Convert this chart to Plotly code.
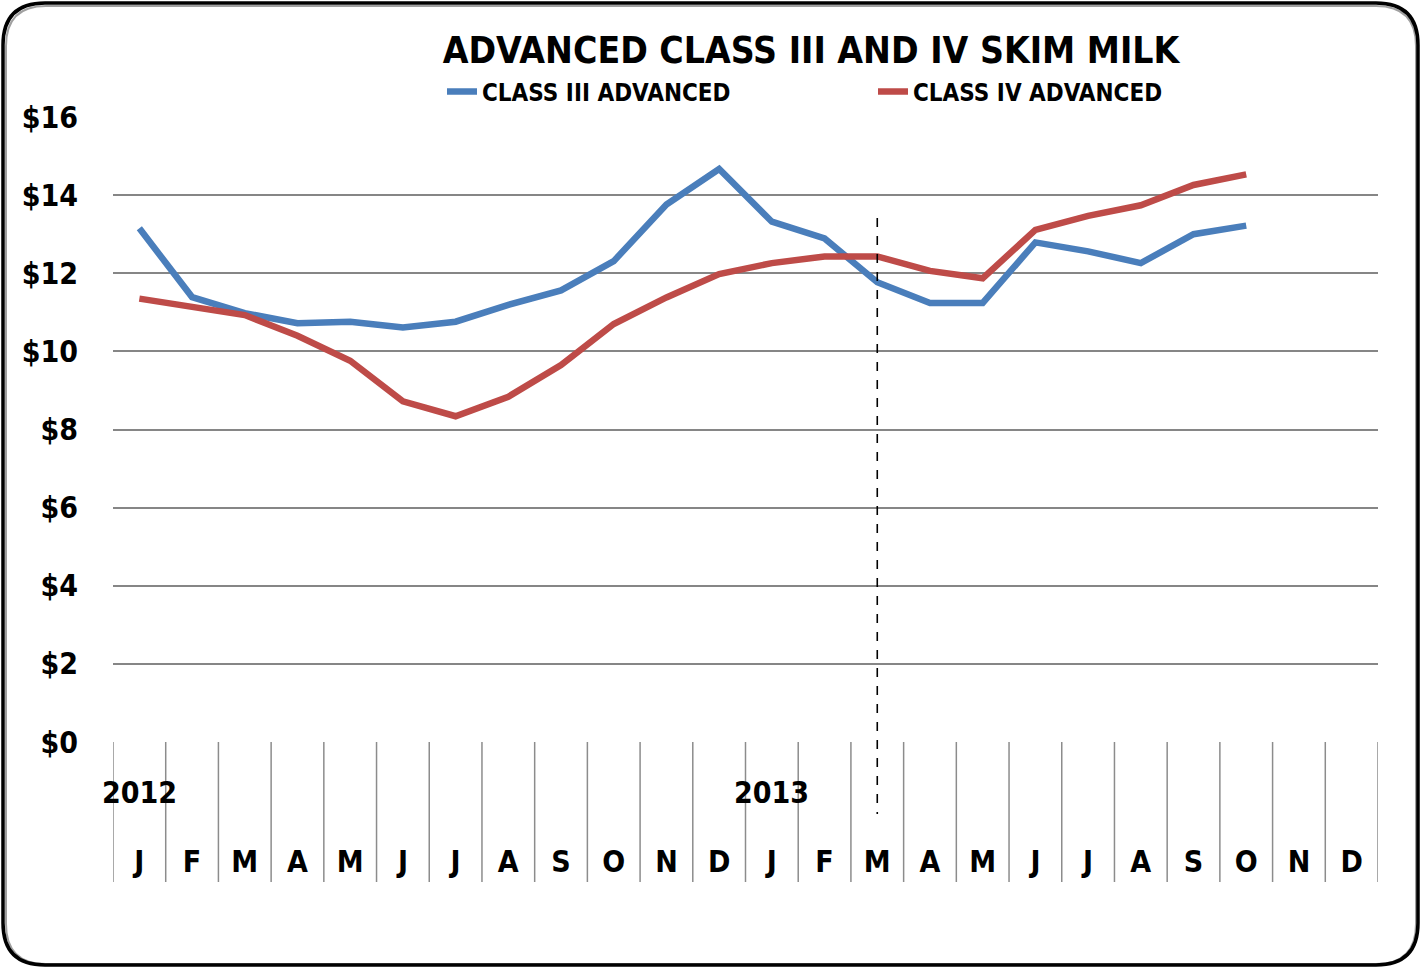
import plotly.graph_objects as go

months = ["J", "F", "M", "A", "M", "J", "J", "A", "S", "O", "N", "D",
          "J", "F", "M", "A", "M", "J", "J", "A", "S", "O", "N", "D"]
years = ["2012", "2013"]
year_pos = [0, 12]

class3 = [13.15, 11.39, 10.98, 10.72, 10.76, 10.61, 10.76, 11.19, 11.56, 12.31, 13.76, 14.67,
          13.32, 12.89, 11.77, 11.24, 11.24, 12.79, 12.56, 12.26, 13.00, 13.22, None, None]
class4 = [11.35, 11.13, 10.93, 10.40, 9.76, 8.72, 8.34, 8.84, 9.65, 10.70, 11.38, 11.98,
          12.26, 12.43, 12.43, 12.06, 11.87, 13.11, 13.47, 13.74, 14.26, 14.53, None, None]
yticks = [0, 2, 4, 6, 8, 10, 12, 14, 16]
ytext = ["$" + str(v) for v in yticks]
divider_month = 14

W, H = 1422, 969
L, R, T, B = 113, 44, 117, 227
PW, PH = W - L - R, H - T - B


def px(x):
    return (x - L) / PW


def py(y):
    return (H - B - y) / PH


def rounded_path(x0, y0, x1, y1, r):
    pts = []
    pts.append(f"M{px(x0 + r)},{py(y0)}")
    pts.append(f"L{px(x1 - r)},{py(y0)}")
    pts.append(f"Q{px(x1)},{py(y0)} {px(x1)},{py(y0 + r)}")
    pts.append(f"L{px(x1)},{py(y1 - r)}")
    pts.append(f"Q{px(x1)},{py(y1)} {px(x1 - r)},{py(y1)}")
    pts.append(f"L{px(x0 + r)},{py(y1)}")
    pts.append(f"Q{px(x0)},{py(y1)} {px(x0)},{py(y1 - r)}")
    pts.append(f"L{px(x0)},{py(y0 + r)}")
    pts.append(f"Q{px(x0)},{py(y0)} {px(x0 + r)},{py(y0)}")
    pts.append("Z")
    return " ".join(pts)


FONT = "DejaVu Sans Condensed, Open Sans, sans-serif"
x = list(range(len(months)))

fig = go.Figure()
fig.add_trace(go.Scatter(x=x, y=class3, mode="lines", name="CLASS III ADVANCED",
                         line=dict(color="#4A7EBB", width=6.5)))
fig.add_trace(go.Scatter(x=x, y=class4, mode="lines", name="CLASS IV ADVANCED",
                         line=dict(color="#BE4B48", width=6.5)))

shapes = []
# outer rounded border
shapes.append(dict(type="path", xref="paper", yref="paper",
                   path=rounded_path(6, 6, 1416, 964, 40),
                   line=dict(color="#A0A0A0", width=2), layer="below"))
shapes.append(dict(type="path", xref="paper", yref="paper",
                   path=rounded_path(3, 3, 1418, 965, 42),
                   line=dict(color="black", width=3.5), layer="below"))
# category divider lines under axis
for i in range(len(months) + 1):
    shapes.append(dict(type="line", xref="x", yref="paper", x0=i - 0.5, x1=i - 0.5,
                       y0=0, y1=py(882), line=dict(color="#8C8C8C", width=1.5)))
# dashed vertical line
shapes.append(dict(type="line", xref="x", yref="paper", x0=divider_month, x1=divider_month,
                   y0=py(218), y1=py(814), line=dict(color="black", width=1.6, dash="dash")))

annotations = []
for yr, pos in zip(years, year_pos):
    annotations.append(dict(x=pos, y=py(792), xref="x", yref="paper", text=yr,
                            showarrow=False, xanchor="center", yanchor="middle",
                            font=dict(family=FONT, size=30, color="black", weight="bold")))

fig.update_layout(
    width=W, height=H,
    margin=dict(l=L, r=R, t=T, b=B),
    paper_bgcolor="white", plot_bgcolor="white",
    title=dict(text="<b>ADVANCED CLASS III AND IV SKIM MILK</b>", x=811 / W, xanchor="center",
               y=1 - 50 / H, yanchor="middle",
               font=dict(family=FONT, size=37, color="black")),
    showlegend=True,
    legend=dict(orientation="h", x=px(442), y=py(92), xanchor="left", yanchor="middle",
                entrywidth=386, entrywidthmode="pixels",
                font=dict(family=FONT, size=24, color="black", weight="bold"),
                bgcolor="rgba(0,0,0,0)"),
    xaxis=dict(range=[-0.5, len(months) - 0.5], tickmode="array", tickvals=x, ticktext=months,
               showgrid=False, zeroline=False, showline=False, ticks="",
               ticklabelstandoff=99,
               tickfont=dict(family=FONT, size=30, color="black", weight="bold")),
    yaxis=dict(range=[0, 16], tickmode="array", tickvals=yticks, ticktext=ytext,
               showgrid=True, gridcolor="#868686", gridwidth=2, zeroline=False,
               showline=False, ticks="", ticklabelstandoff=34,
               tickfont=dict(family=FONT, size=30, color="black", weight="bold")),
    shapes=shapes,
    annotations=annotations,
)

fig.write_html("out.html", config={"displayModeBar": False},
               post_script="document.body.style.margin='0px';")
